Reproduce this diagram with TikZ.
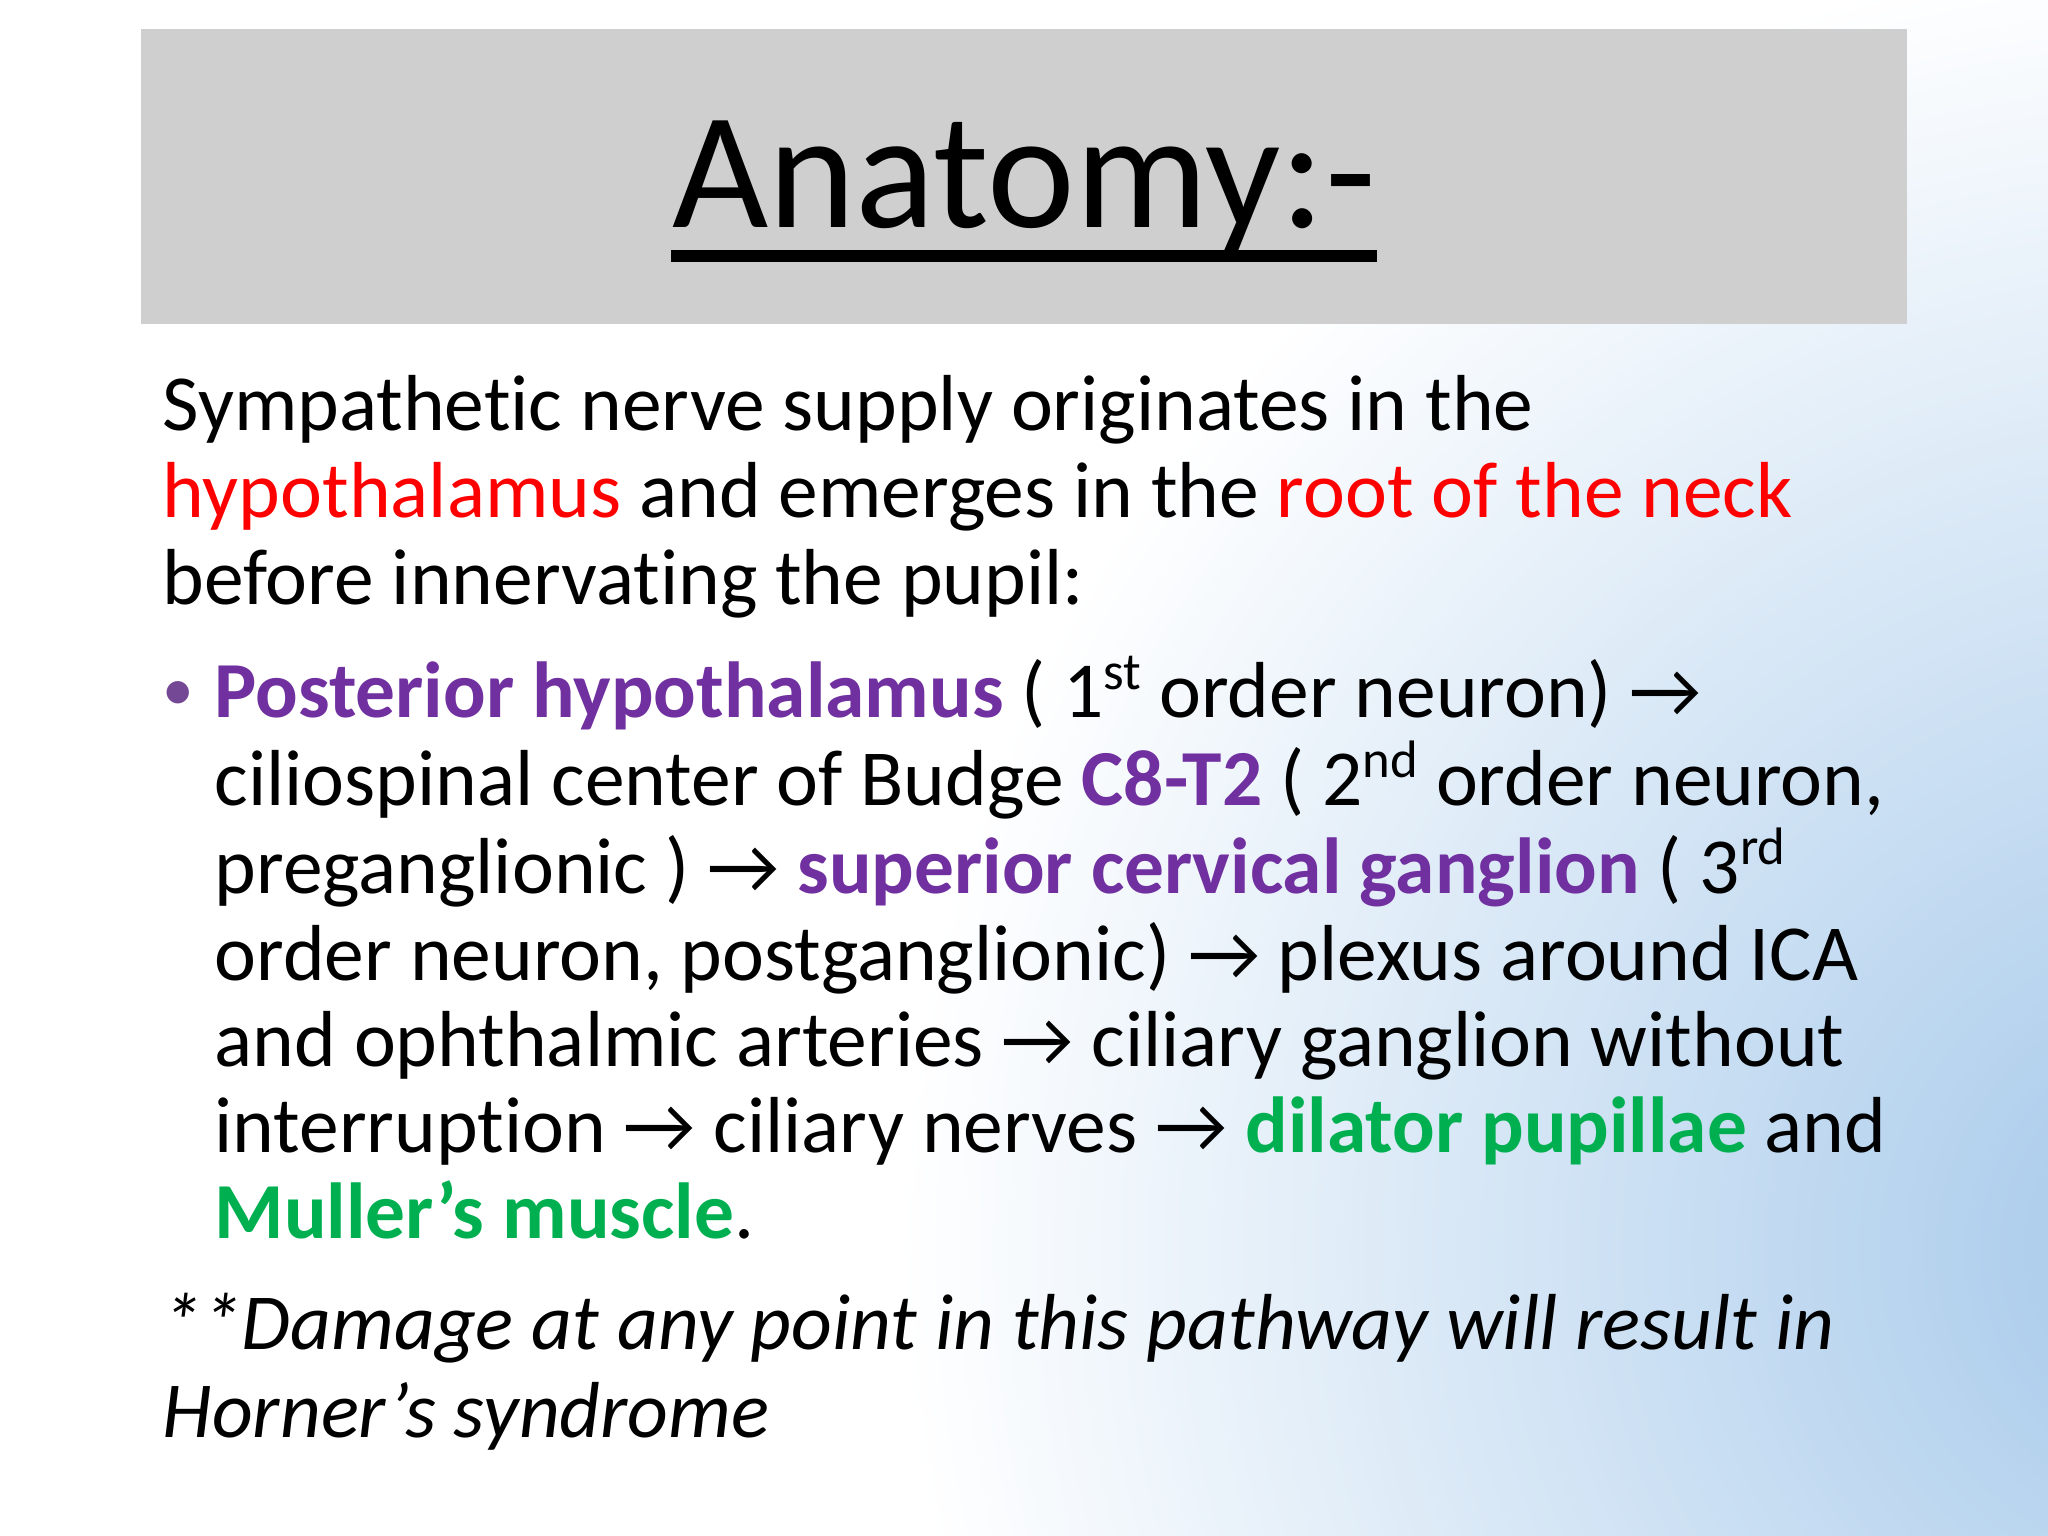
\documentclass[tikz,border=0pt]{standalone}
\usepackage{fontspec}
\setmainfont{Carlito}[Ligatures=NoCommon]
\definecolor{pr}{HTML}{7030A0}
\definecolor{gr}{HTML}{00B050}
\definecolor{rd}{HTML}{FF0000}
\definecolor{bl}{HTML}{A4C8EA}
\newcommand{\sps}[1]{\raisebox{0.75ex}{\fontsize{15}{15}\selectfont #1}}
\begin{document}
\begin{tikzpicture}[x=1cm,y=1cm,
  txt/.style={anchor=base west,inner sep=0pt,font=\fontsize{22.6}{24}\selectfont}]
\useasboundingbox (0,0) rectangle (20.48,-15.36);
\fill[white] (0,0) rectangle (20.48,-15.36);
\begin{scope}
\clip (0,0) rectangle (20.48,-15.36);
\shade[inner color=bl,outer color=white] (22,-12.5) circle (13);
\end{scope}
\fill[black!19] (1.41,-0.29) rectangle (19.07,-3.24);
\node[anchor=base,inner sep=0pt,font=\fontsize{47.3}{50}\selectfont] (title) at (10.24,-2.28) {Anatomy:-};
\draw[line width=3.2pt] ([yshift=-0.28cm]title.base west) -- ([yshift=-0.28cm]title.base east);
\node[txt] (l1) at (1.62,-4.31) {Sympathetic nerve supply originates in the};
\node[txt] (l2) at (1.62,-5.18) {\textcolor{rd}{hypothalamus} and emerges in the \textcolor{rd}{root of the neck}};
\node[txt] (l3) at (1.62,-6.05) {before innervating the pupil:};
\node[txt,text=pr!70!gray,font=\fontsize{18}{18}\selectfont] (bul) at (1.62,-7.10) {•};
\node[txt] (b1) at (2.14,-7.18) {\textcolor{pr}{\bfseries Posterior hypothalamus} ( 1\sps{st} order neuron) →};
\node[txt] (b2) at (2.14,-8.06) {ciliospinal center of Budge \textcolor{pr}{\bfseries C8-T2} ( 2\sps{nd} order neuron,};
\node[txt] (b3) at (2.14,-8.93) {preganglionic ) → \textcolor{pr}{\bfseries superior cervical ganglion} ( 3\sps{rd}};
\node[txt] (b4) at (2.14,-9.80) {order neuron, postganglionic) → plexus around ICA};
\node[txt] (b5) at (2.14,-10.66) {and ophthalmic arteries → ciliary ganglion without};
\node[txt] (b6) at (2.14,-11.52) {interruption → ciliary nerves → \textcolor{gr}{\bfseries dilator pupillae} and};
\node[txt] (b7) at (2.14,-12.38) {\textcolor{gr}{\bfseries Muller’s muscle}.};
\node[txt,font=\fontsize{22.6}{24}\selectfont\itshape] (d1) at (1.62,-13.49) {**Damage at any point in this pathway will result in};
\node[txt,font=\fontsize{22.6}{24}\selectfont\itshape] (d2) at (1.62,-14.37) {Horner’s syndrome};
\end{tikzpicture}
\end{document}
